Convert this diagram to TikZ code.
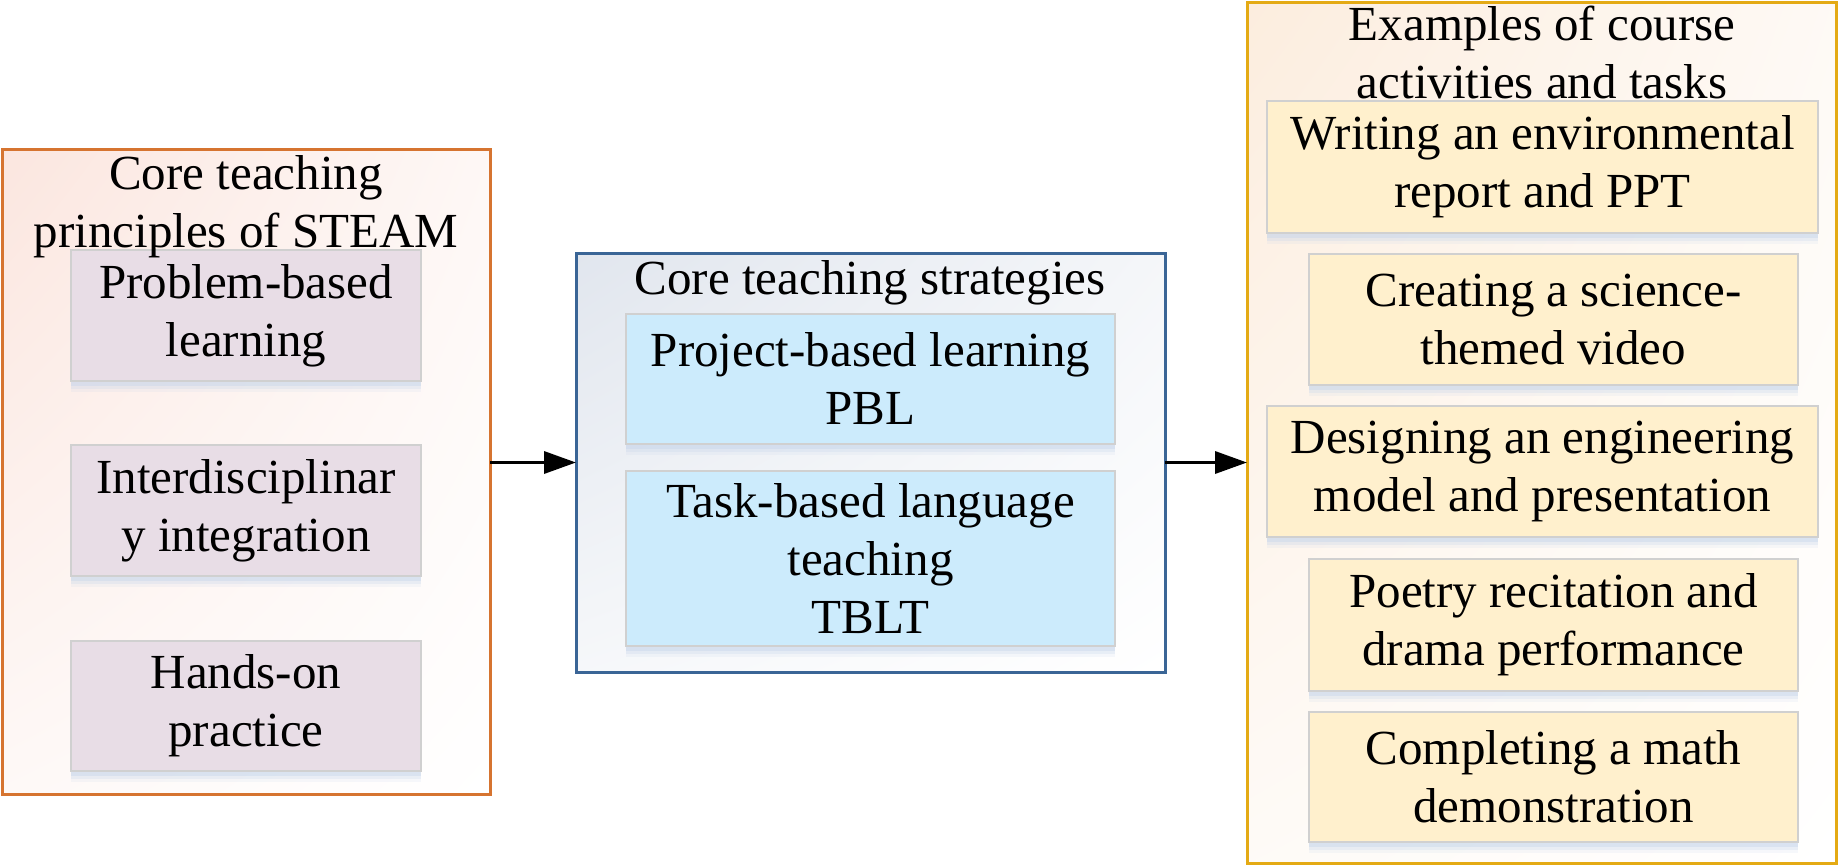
\documentclass[tikz,border=0pt]{standalone}
\usepackage{fontspec}
\setmainfont{Liberation Serif}
\usetikzlibrary{arrows.meta,shadows,shadings}
\definecolor{lborder}{RGB}{214,116,48}
\definecolor{lbg}{RGB}{251,230,223}
\definecolor{lfill}{RGB}{232,221,230}
\definecolor{mborder}{RGB}{58,101,150}
\definecolor{mbg}{RGB}{225,230,238}
\definecolor{mfill}{RGB}{204,235,252}
\definecolor{rborder}{RGB}{228,170,20}
\definecolor{rbg}{RGB}{252,237,222}
\definecolor{rfill}{RGB}{255,240,205}
\definecolor{iborder}{RGB}{208,208,208}
\definecolor{shadowc}{RGB}{196,212,234}
\newcommand{\fs}{\fontsize{49}{58}\selectfont}
\tikzset{
  outerbox/.style={draw=#1, line width=3pt, anchor=north west, inner sep=0pt, outer sep=0pt},
  innerbox/.style={draw=iborder, line width=2.5pt, fill=#1, anchor=north west, inner sep=0pt, outer sep=0pt,
    drop shadow={shadow xshift=0pt, shadow yshift=-11pt, fill=shadowc, opacity=0.15},
    drop shadow={shadow xshift=0pt, shadow yshift=-8pt, fill=shadowc, opacity=0.25},
    drop shadow={shadow xshift=0pt, shadow yshift=-5pt, fill=shadowc, opacity=0.4},
    align=center, font=\fs},
  titletext/.style={align=center, font=\fs, inner sep=0pt},
  conn/.style={line width=3.5pt, -{Triangle[length=32pt,width=22pt]}}
}
\begin{document}
\begin{tikzpicture}[x=1pt,y=-1pt]
\useasboundingbox (0,0) rectangle (1838,865);
% left group
\node[outerbox=lborder, minimum width=488pt, minimum height=645pt, shade,
  upper left=lbg, upper right=lbg!30, lower left=lbg!25, lower right=white] (L) at (2,149) {};
\node[innerbox=lfill, minimum width=350pt, minimum height=131pt] (L1) at (71,250) {Problem-based\\learning};
\node[innerbox=lfill, minimum width=350pt, minimum height=131pt] (L2) at (71,445) {Interdisciplinar\\y integration};
\node[innerbox=lfill, minimum width=350pt, minimum height=130pt] (L3) at (71,641) {Hands-on\\practice};
\node[titletext] (Lt) at (246,207) {Core teaching\\principles of STEAM};
% middle group
\node[outerbox=mborder, minimum width=589pt, minimum height=419pt, shade,
  upper left=mbg, upper right=mbg!35, lower left=mbg!30, lower right=white] (M) at (576,253) {};
\node[innerbox=mfill, minimum width=489pt, minimum height=130pt] (M1) at (626,314) {Project-based learning\\PBL};
\node[innerbox=mfill, minimum width=489pt, minimum height=175pt] (M2) at (626,471) {Task-based language\\teaching\\TBLT};
\node[titletext] (Mt) at (870,283) {Core teaching strategies};
% right group
\node[outerbox=rborder, minimum width=589pt, minimum height=861pt, shade,
  upper left=rbg, upper right=rbg!30, lower left=rbg!25, lower right=white] (R) at (1247,2) {};
\node[innerbox=rfill, minimum width=551pt, minimum height=132pt] (R1) at (1267,101) {Writing an environmental\\report and PPT};
\node[innerbox=rfill, minimum width=489pt, minimum height=131pt] (R2) at (1309,254) {Creating a science-\\themed video};
\node[innerbox=rfill, minimum width=551pt, minimum height=131pt] (R3) at (1267,406) {Designing an engineering\\model and presentation};
\node[innerbox=rfill, minimum width=489pt, minimum height=132pt] (R4) at (1309,559) {Poetry recitation and\\drama performance};
\node[innerbox=rfill, minimum width=489pt, minimum height=130pt] (R5) at (1309,712) {Completing a math\\demonstration};
\node[titletext] (Rt) at (1542,52) {Examples of course\\activities and tasks};
% connectors
\draw[conn] (L.east |- M.west) -- (M.west);
\draw[conn] (M.east) -- (M.east -| R.west);
\end{tikzpicture}
\end{document}
